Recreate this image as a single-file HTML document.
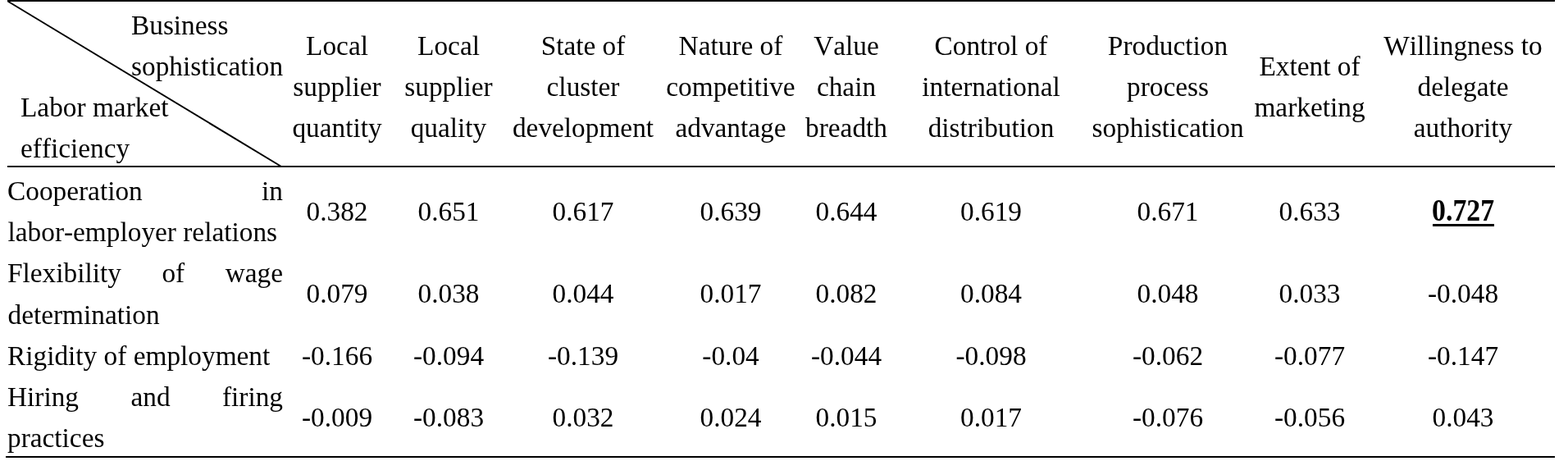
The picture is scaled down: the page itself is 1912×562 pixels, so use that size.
<!DOCTYPE html>
<html lang="en"><head><meta charset="utf-8"><title>Labor market efficiency and business sophistication</title>
<style>
html,body{margin:0;padding:0;background:#fff;}
body{width:1912px;height:562px;position:relative;overflow:hidden;font-family:"Liberation Serif","Times New Roman",serif;font-size:33.33px;line-height:50px;color:#000;font-kerning:none;font-variant-ligatures:none;}
table{position:absolute;left:9px;top:0;width:1887px;table-layout:fixed;border-collapse:separate;border-spacing:0;}
th,td{box-sizing:border-box;margin:0;padding:0;font-weight:normal;text-align:center;vertical-align:top;white-space:nowrap;overflow:visible;}
th:first-child,td:first-child{text-align:left;padding-right:6px;}
thead tr{height:204px;} thead th{padding-top:31px;} thead th.two{padding-top:56px;} thead th.corner{padding-top:6px;}
tr.r1{height:104px;} tr.r1 td{padding-top:29px;} tr.r1 td:first-child{padding-top:4px;}
tr.r2{height:101px;} tr.r2 td{padding-top:25px;} tr.r2 td:first-child{padding-top:0;}
tr.r3{height:50px;}
tr.r4{height:103px;} tr.r4 td{padding-top:25px;} tr.r4 td:first-child{padding-top:0;}
.j{height:50px;text-align:justify;text-align-last:justify;white-space:normal;}
.n{height:50px;position:relative;}
.rule{position:absolute;background:#000;height:2px;}
.best{display:inline-block;font-weight:bold;transform:translateX(-.4px) scale(1.013,1.128);transform-origin:50% 36.25px;}
.best u{text-decoration:none;}
svg{position:absolute;left:0;top:0;}
</style></head><body>

<div class="rule" style="left:9px;top:0;width:1887px"></div>
<div class="rule" style="left:9px;top:202px;width:1887px"></div>
<div class="rule" style="left:7px;top:556px;width:1889px"></div>
<div class="rule" style="left:1747px;top:273px;width:75px;height:3px"></div>
<svg width="1912" height="562" viewBox="0 0 1912 562"><line x1="9.5" y1="1.5" x2="343" y2="203" stroke="#000" stroke-width="2"/></svg>
<table><colgroup><col style="width:342px"><col style="width:128px"><col style="width:134px"><col style="width:192px"><col style="width:171px"><col style="width:127px"><col style="width:209px"><col style="width:211px"><col style="width:153px"><col style="width:220px"></colgroup>
<thead><tr>
<th class="corner"><div class="n" style="left:151px">Business</div><div class="n" style="left:151px">sophistication</div><div class="n" style="left:16px">Labor market</div><div class="n" style="left:16px;height:48px">efficiency</div></th>
<th style="padding-right:8px;">Local<br>supplier<br>quantity</th>
<th style="padding-left:2px;">Local<br>supplier<br>quality</th>
<th style="padding-left:4px;">State of<br>cluster<br>development</th>
<th style="padding-left:1px;">Nature of<br>competitive<br>advantage</th>
<th style="padding-right:15px;">Value<br>chain<br>breadth</th>
<th style="padding-left:2px;">Control of<br>international<br>distribution</th>
<th style="padding-left:13px;">Production<br>process<br>sophistication</th>
<th class="two" style="padding-right:5px;">Extent of<br>marketing</th>
<th style="padding-right:4px;">Willingness to<br>delegate<br>authority</th>
</tr></thead><tbody>
<tr class="r1">
<td><div class="j">Cooperation in</div><div class="n" style="left:.5px">labor-employer relations</div></td>
<td style="padding-right:8px;">0.382</td>
<td style="padding-left:2px;">0.651</td>
<td style="padding-left:4px;">0.617</td>
<td style="padding-left:1px;">0.639</td>
<td style="padding-right:15px;">0.644</td>
<td style="padding-left:2px;">0.619</td>
<td style="padding-left:13px;">0.671</td>
<td style="padding-right:5px;">0.633</td>
<td style="padding-right:4px;"><span class="best"><u>0.727</u></span></td>
</tr>
<tr class="r2">
<td><div class="j">Flexibility of wage</div><div class="n" style="left:.5px;top:.5px">determination</div></td>
<td style="padding-right:8px;">0.079</td>
<td style="padding-left:2px;">0.038</td>
<td style="padding-left:4px;">0.044</td>
<td style="padding-left:1px;">0.017</td>
<td style="padding-right:15px;">0.082</td>
<td style="padding-left:2px;">0.084</td>
<td style="padding-left:13px;">0.048</td>
<td style="padding-right:5px;">0.033</td>
<td style="padding-right:4px;">-0.048</td>
</tr>
<tr class="r3">
<td><div class="n">Rigidity of employment</div></td>
<td style="padding-right:8px;">-0.166</td>
<td style="padding-left:2px;">-0.094</td>
<td style="padding-left:4px;">-0.139</td>
<td style="padding-left:1px;">-0.04</td>
<td style="padding-right:15px;">-0.044</td>
<td style="padding-left:2px;">-0.098</td>
<td style="padding-left:13px;">-0.062</td>
<td style="padding-right:5px;">-0.077</td>
<td style="padding-right:4px;">-0.147</td>
</tr>
<tr class="r4">
<td><div class="j">Hiring and firing</div><div class="n">practices</div></td>
<td style="padding-right:8px;">-0.009</td>
<td style="padding-left:2px;">-0.083</td>
<td style="padding-left:4px;">0.032</td>
<td style="padding-left:1px;">0.024</td>
<td style="padding-right:15px;">0.015</td>
<td style="padding-left:2px;">0.017</td>
<td style="padding-left:13px;">-0.076</td>
<td style="padding-right:5px;">-0.056</td>
<td style="padding-right:4px;">0.043</td>
</tr>
</tbody></table>
</body></html>
